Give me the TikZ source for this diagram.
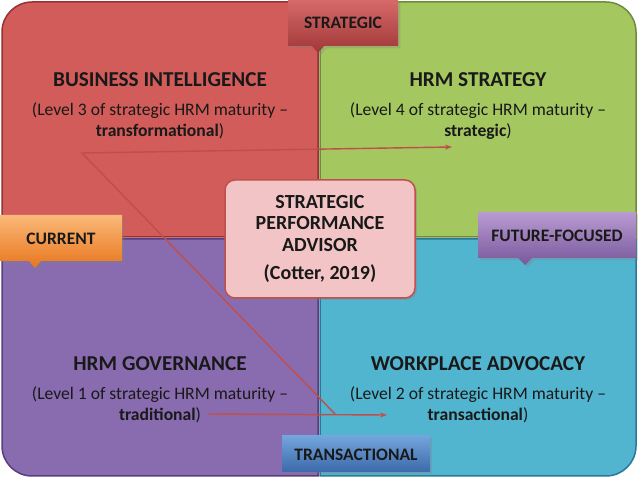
\documentclass[tikz,border=0pt]{standalone}
\usepackage{fontspec}
\setmainfont{Carlito}
\usetikzlibrary{arrows.meta,shadows}
\definecolor{redq}{RGB}{209,92,90}
\definecolor{redqd}{RGB}{150,50,50}
\definecolor{greenq}{RGB}{164,199,96}
\definecolor{greenqd}{RGB}{110,140,60}
\definecolor{purpq}{RGB}{137,108,175}
\definecolor{purpqd}{RGB}{90,60,130}
\definecolor{blueq}{RGB}{82,181,208}
\definecolor{blueqd}{RGB}{40,120,150}
\definecolor{pinkc}{RGB}{243,196,197}
\definecolor{pinkd}{RGB}{190,80,78}
\definecolor{linec}{RGB}{192,78,74}
\definecolor{tagrt}{RGB}{215,105,105}
\definecolor{tagrb}{RGB}{160,55,55}
\definecolor{tagot}{RGB}{250,185,120}
\definecolor{tagob}{RGB}{232,118,30}
\definecolor{tagpt}{RGB}{185,155,210}
\definecolor{tagpb}{RGB}{120,88,155}
\definecolor{tagbt}{RGB}{115,165,220}
\definecolor{tagbb}{RGB}{60,105,170}
\tikzset{
  quad/.style={line width=1.5pt},
  title/.style={font=\fontsize{21.2}{24}\selectfont\bfseries, text=black!90},
  level/.style={font=\fontsize{17.6}{21}\selectfont, align=center, text=black!90},
  tag/.style={font=\fontsize{17.5}{19}\selectfont\bfseries, text=black!90},
  flow/.style={draw=linec, line width=1.4pt},
  arr/.style={-{Stealth[length=7pt,width=5pt]}},
}
\begin{document}
\begin{tikzpicture}[x=1pt,y=-1pt]
\useasboundingbox (0,0) rectangle (638,478);
\fill[white] (0,0) rectangle (638,478);
% quadrants
\path[quad, fill=redq, draw=redqd] (318,237) -- (2,237) -- (2,32) arc[start angle=180,end angle=90,radius=30pt] -- (318,2) -- cycle;
\path[quad, fill=greenq, draw=greenqd] (320,2) -- (606,2) arc[start angle=90,end angle=0,radius=30pt] -- (636,237) -- (320,237) -- cycle;
\path[quad, fill=purpq, draw=purpqd] (2,239) -- (318,239) -- (318,476) -- (32,476) arc[start angle=270,end angle=180,radius=30pt] -- cycle;
\path[quad, fill=blueq, draw=blueqd] (320,239) -- (636,239) -- (636,446) arc[start angle=0,end angle=-90,radius=30pt] -- (320,476) -- cycle;

% quadrant texts
\node[title] (bi) at (160,80) {BUSINESS INTELLIGENCE};
\node[level] (bil) at (160,121) {(Level 3 of strategic HRM maturity –\\\textbf{transformational})};
\node[title] (hs) at (478,80) {HRM STRATEGY};
\node[level] (hsl) at (478,121) {(Level 4 of strategic HRM maturity –\\\textbf{strategic})};
\node[title] (hg) at (160,364) {HRM GOVERNANCE};
\node[level] (hgl) at (160,405) {(Level 1 of strategic HRM maturity –\\\textbf{traditional})};
\node[title] (wa) at (478,364) {WORKPLACE ADVOCACY};
\node[level] (wal) at (478,405) {(Level 2 of strategic HRM maturity –\\\textbf{transactional})};

% flow lines
\coordinate (t1) at (208,414);
\coordinate (t2) at (387,415);
\coordinate (d1) at (335,414);
\coordinate (d2) at (82,153);
\coordinate (s1) at (452,147);
\draw[flow, arr] (t1) -- (t2);
\draw[flow, arr] (d1) -- (d2) -- (s1);

% centre box
\node[draw=pinkd, line width=1.5pt, fill=pinkc, rounded corners=10pt,
      minimum width=190pt, minimum height=118pt, drop shadow={opacity=0.35,shadow xshift=2pt,shadow yshift=-2pt},
      align=center, font=\fontsize{20}{21.5}\selectfont\bfseries, text=black!90] (spa) at (320,239)
  {STRATEGIC\\PERFORMANCE\\ADVISOR\\[7pt](Cotter, 2019)};

% tags
\path[top color=tagrt, bottom color=tagrb, drop shadow={opacity=0.3}]
  (288,0) -- (398,0) -- (398,46) -- (324,46) -- (318,53) -- (312,46) -- (288,46) -- cycle;
\node[tag] (strat) at (343,23) {STRATEGIC};

\path[top color=tagot, bottom color=tagob, drop shadow={opacity=0.3}]
  (0,215) -- (122,215) -- (122,261) -- (41,261) -- (35,268) -- (29,261) -- (0,261) -- cycle;
\node[tag] (cur) at (61,239) {CURRENT};

\path[top color=tagpt, bottom color=tagpb, drop shadow={opacity=0.3}]
  (478,212) -- (636,212) -- (636,258) -- (532,258) -- (525,265) -- (518,258) -- (478,258) -- cycle;
\node[tag] (fut) at (557,236) {FUTURE-FOCUSED};

\path[top color=tagbt, bottom color=tagbb, drop shadow={opacity=0.3}]
  (282,436) -- (430,436) -- (430,472) -- (282,472) -- cycle;
\node[tag] (trans) at (356,455) {TRANSACTIONAL};
\end{tikzpicture}
\end{document}
